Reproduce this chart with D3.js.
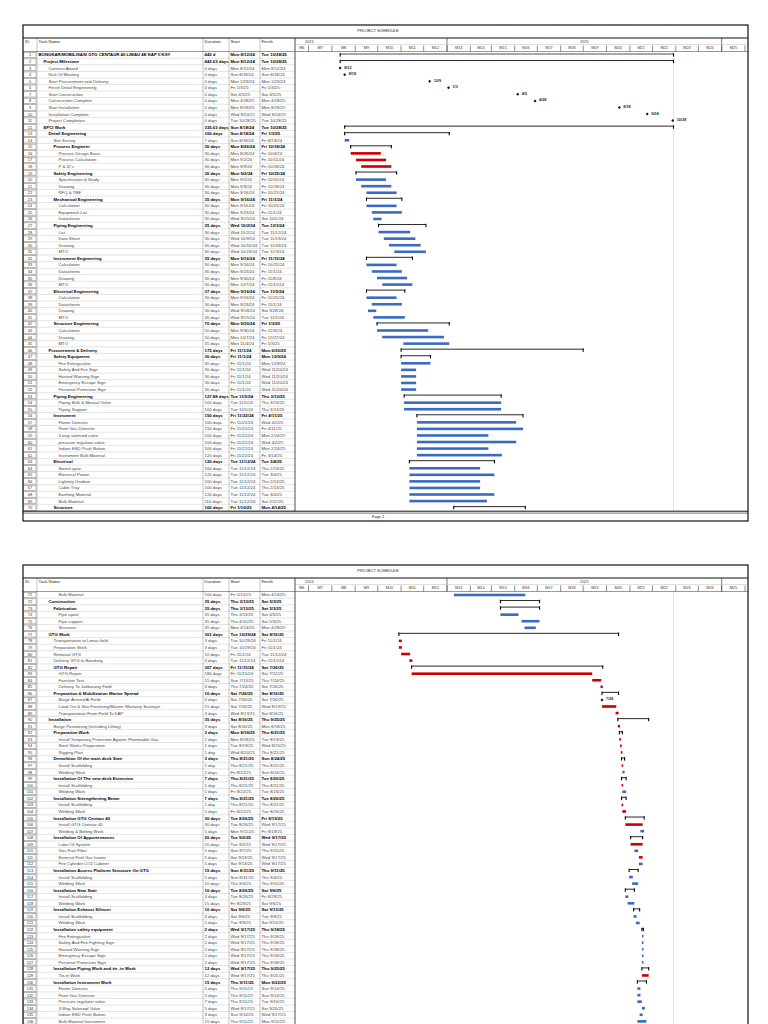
<!DOCTYPE html>
<html>
<head>
<meta charset="utf-8">
<script src="https://cdn.jsdelivr.net/npm/d3@7"></script>
<style>
  body { margin: 0; background: #fff; }
  svg { display: block; font-family: "Liberation Sans", Arial, sans-serif; }
</style>
</head>
<body>
<script>
// task table (rows 1..136)
const taskNames = [
  'BONGKAR/MOBILISASI GTG CENTAUR 40 LIMAU 4E KAP II KSY', 'Project Milestone', 'Contract Award', 'Kick Of Meeting',
  'Start Procurement and Delivery', 'Finish Detail Engineering', 'Start Construction', 'Construction Complete',
  'Start Installation', 'Installation Complete', 'Project Completion', 'EPCI Work', 'Detail Engineering', 'Site Survey',
  'Process Engineer', 'Process Design Basis', 'Process Calculation', "P & ID's", 'Safety Engineering',
  'Specification & Study', 'Drawing', 'RFQ & TBE', 'Mechanical Engineering', 'Calculation', 'Equipment List',
  'Datasheets', 'Piping Engineering', 'List', 'Data Sheet', 'Drawing', 'MTO', 'Instrument Engineering', 'Calculation',
  'Datasheets', 'Drawing', 'MTO', 'Electrical Engineering', 'Calculation', 'Datasheets', 'Drawing', 'MTO',
  'Structure Engineering', 'Calculation', 'Drawing', 'MTO', 'Procurement & Delivery', 'Safety Equipment',
  'Fire Extinguisher', 'Safety And Fire Sign', 'Hazard Warning Sign', 'Emergency Escape Sign', 'Personal Protection Sign',
  'Piping Engineering', 'Piping Bulk & Manual Valve', 'Piping Support', 'Instrument', 'Flame Detector',
  'Point Gas Detector', '3 way solenoid valve', 'pressure regulator valve', 'Indoor ESD Push Button',
  'Instrument Bulk Material', 'Electrical', 'Switch gear', 'Electrical Power', 'Lighting Outdoor', 'Cable Tray',
  'Earthing Material', 'Bulk Material', 'Structure',
  'Bulk Material', 'Construction', 'Fabrication', 'Pipe spool', 'Pipe support', 'Structure', 'GTG Work',
  'Transportation to Limau field', 'Preparation Work', 'Removal GTG', 'Delivery GTG to Bandung', 'GTG Repair',
  'GTG Repair', 'Function Test', 'Delivery To Jatibarang Field', 'Preparation & Mobilization Marine Spread',
  'Barge Arrived At Field', 'Load Out & Sea Fastening/Marine Warranty Surveyor', 'Transportation From Field To KAP',
  'Installation', 'Barge Positioning (including Lifting)', 'Preparation Work',
  'Install Temporary Protection Againts Flammable Gas', 'Steel Works Preparation', 'Rigging Plan',
  'Demolition Of the main deck Stair', 'Install Scaffolding', 'Welding Work', 'Installation Of The new deck Extension',
  'Install Scaffolding', 'Welding Work', 'Installation Strengthening Beam', 'Install Scaffolding', 'Welding Work',
  'Installation GTG Centaur 40', 'Install GTG Centaur 40', 'Welding & Bolting Work', 'Installation Of Appurtenances',
  'Lube Oil System', 'Gas Fuel Filter', 'External Fuel Gas heater', 'Fire Cylinder CO2 Cabinet',
  'Installation Access Platform Structure On GTG', 'Install Scaffolding', 'Welding Work', 'Installation New Stair',
  'Install Scaffolding', 'Welding Work', 'Installation  Exhaust Silincer', 'Install Scaffolding', 'Welding Work',
  'Installation safety equipment', 'Fire Extinguisher', 'Safety And Fire Fighting Sign', 'Hazard Warning Sign',
  'Emergency Escape Sign', 'Personal Protection Sign', 'Installation Piping Work and tie -in Work', 'Tie-in Work',
  'Installation Instrument Work', 'Flame Detector', 'Point Gas Detector', 'Pressure regulator valve',
  '3 Way Solenoid Valve', 'Indoor ESD Push Button', 'Bulk Material Instrument'
];

const durations = [
  '442 d', '442.63 days', '0 days', '0 days', '0 days', '0 days', '0 days', '0 days', '0 days', '0 days',
  '0 days', '335.63 days', '100 days', '7 days', '30 days', '30 days', '30 days', '30 days', '30 days', '30 days',
  '30 days', '30 days', '35 days', '30 days', '30 days', '30 days', '35 days', '30 days', '30 days', '30 days',
  '30 days', '35 days', '30 days', '30 days', '30 days', '30 days', '37 days', '30 days', '30 days', '30 days',
  '30 days', '70 days', '50 days', '50 days', '35 days', '175 days', '30 days', '30 days', '30 days', '30 days',
  '30 days', '30 days', '127.88 days', '100 days', '100 days', '150 days', '100 days', '150 days', '100 days', '100 days',
  '100 days', '120 days', '120 days', '100 days', '120 days', '100 days', '100 days', '120 days', '110 days', '100 days',
  '100 days', '35 days', '35 days', '35 days', '35 days', '35 days', '301 days', '3 days', '3 days', '10 days',
  '3 days', '307 days', '180 days', '15 days', '3 days', '10 days', '0 days', '15 days', '3 days', '35 days',
  '3 days', '3 days', '1 days', '1 days', '1 day', '3 days', '1 day', '2 days', '7 days', '1 day',
  '5 days', '7 days', '1 day', '5 days', '30 days', '30 days', '5 days', '20 days', '20 days', '5 days',
  '5 days', '5 days', '15 days', '5 days', '10 days', '10 days', '3 days', '15 days', '10 days', '3 days',
  '5 days', '2 days', '2 days', '2 days', '2 days', '2 days', '2 days', '12 days', '12 days', '15 days',
  '5 days', '5 days', '7 days', '5 days', '3 days', '15 days'
];

const starts = [
  'Mon 8/12/24', 'Mon 8/12/24', 'Mon 8/12/24', 'Sun 8/18/24', 'Mon 12/9/24', 'Fri 1/3/25', 'Sat 4/5/25', 'Mon 4/28/25',
  'Mon 8/18/25', 'Wed 9/24/25', 'Tue 10/28/25', 'Sun 8/18/24', 'Sun 8/18/24', 'Sun 8/18/24', 'Mon 8/26/24', 'Mon 8/26/24',
  'Mon 9/2/24', 'Mon 9/9/24', 'Mon 9/2/24', 'Mon 9/2/24', 'Mon 9/9/24', 'Mon 9/16/24', 'Mon 9/16/24', 'Mon 9/16/24',
  'Mon 9/23/24', 'Wed 9/25/24', 'Wed 10/2/24', 'Wed 10/2/24', 'Wed 10/9/24', 'Wed 10/16/24', 'Wed 10/23/24', 'Mon 9/16/24',
  'Mon 9/16/24', 'Mon 9/23/24', 'Mon 9/30/24', 'Mon 10/7/24', 'Mon 9/16/24', 'Mon 9/16/24', 'Mon 9/23/24', 'Wed 9/18/24',
  'Wed 9/25/24', 'Mon 9/30/24', 'Mon 9/30/24', 'Mon 10/7/24', 'Mon 11/4/24', 'Fri 11/1/24', 'Fri 11/1/24', 'Fri 11/1/24',
  'Fri 11/1/24', 'Fri 11/1/24', 'Fri 11/1/24', 'Fri 11/1/24', 'Tue 11/5/24', 'Tue 11/5/24', 'Tue 11/5/24', 'Fri 11/22/24',
  'Fri 11/22/24', 'Fri 11/22/24', 'Fri 11/22/24', 'Fri 11/22/24', 'Fri 11/22/24', 'Fri 11/22/24', 'Tue 11/12/24', 'Tue 11/12/24',
  'Tue 11/12/24', 'Tue 11/12/24', 'Tue 11/12/24', 'Tue 11/12/24', 'Tue 11/12/24', 'Fri 1/10/25',
  'Fri 1/10/25', 'Thu 3/13/25', 'Thu 3/13/25', 'Thu 3/13/25', 'Thu 4/10/25', 'Mon 4/14/25', 'Tue 10/29/24', 'Tue 10/29/24',
  'Tue 10/29/24', 'Fri 11/1/24', 'Tue 11/12/24', 'Fri 11/15/24', 'Fri 11/15/24', 'Sun 7/13/25', 'Thu 7/24/25', 'Sat 7/26/25',
  'Sat 7/26/25', 'Sat 7/26/25', 'Wed 8/13/25', 'Sat 8/16/25', 'Sat 8/16/25', 'Mon 8/18/25', 'Mon 8/18/25', 'Tue 8/19/25',
  'Wed 8/20/25', 'Thu 8/21/25', 'Thu 8/21/25', 'Fri 8/22/25', 'Thu 8/21/25', 'Thu 8/21/25', 'Fri 8/22/25', 'Thu 8/21/25',
  'Thu 8/21/25', 'Fri 8/22/25', 'Tue 8/26/25', 'Tue 8/26/25', 'Mon 9/15/25', 'Tue 9/2/25', 'Tue 9/2/25', 'Sun 9/7/25',
  'Sat 9/13/25', 'Sat 9/13/25', 'Sun 8/31/25', 'Sun 8/31/25', 'Thu 9/4/25', 'Tue 8/26/25', 'Tue 8/26/25', 'Fri 8/29/25',
  'Sat 9/6/25', 'Sat 9/6/25', 'Tue 9/9/25', 'Wed 9/17/25', 'Wed 9/17/25', 'Wed 9/17/25', 'Wed 9/17/25', 'Wed 9/17/25',
  'Wed 9/17/25', 'Wed 9/17/25', 'Wed 9/17/25', 'Thu 9/11/25', 'Thu 9/11/25', 'Thu 9/11/25', 'Thu 9/11/25', 'Wed 9/17/25',
  'Sun 9/14/25', 'Thu 9/11/25'
];

const finishes = [
  'Tue 10/28/25', 'Tue 10/28/25', 'Mon 8/12/24', 'Sun 8/18/24', 'Mon 12/9/24', 'Fri 1/3/25', 'Sat 4/5/25', 'Mon 4/28/25',
  'Mon 8/18/25', 'Wed 9/24/25', 'Tue 10/28/25', 'Tue 10/28/25', 'Fri 1/3/25', 'Fri 8/23/24', 'Fri 10/18/24', 'Fri 10/4/24',
  'Fri 10/11/24', 'Fri 10/18/24', 'Fri 10/25/24', 'Fri 10/11/24', 'Fri 10/18/24', 'Fri 10/25/24', 'Fri 11/1/24', 'Fri 10/25/24',
  'Fri 11/1/24', 'Sat 10/5/24', 'Tue 12/3/24', 'Tue 11/12/24', 'Tue 11/19/24', 'Tue 11/26/24', 'Tue 12/3/24', 'Fri 11/15/24',
  'Fri 10/25/24', 'Fri 11/1/24', 'Fri 11/8/24', 'Fri 11/15/24', 'Tue 11/5/24', 'Fri 10/25/24', 'Fri 11/1/24', 'Sat 9/28/24',
  'Tue 11/5/24', 'Fri 1/3/25', 'Fri 12/6/24', 'Fri 12/27/24', 'Fri 1/3/25', 'Mon 6/30/25', 'Mon 12/9/24', 'Mon 12/9/24',
  'Wed 11/20/24', 'Wed 11/20/24', 'Wed 11/20/24', 'Wed 11/20/24', 'Thu 3/13/25', 'Thu 3/13/25', 'Thu 3/13/25', 'Fri 4/11/25',
  'Wed 4/2/25', 'Fri 4/11/25', 'Mon 2/24/25', 'Wed 4/2/25', 'Mon 2/24/25', 'Fri 3/14/25', 'Tue 3/4/25', 'Thu 2/13/25',
  'Tue 3/4/25', 'Thu 2/13/25', 'Thu 2/13/25', 'Tue 3/4/25', 'Sat 2/22/25', 'Mon 4/14/25',
  'Mon 4/14/25', 'Sat 5/3/25', 'Sat 5/3/25', 'Sat 4/5/25', 'Sat 5/3/25', 'Mon 4/28/25', 'Sat 8/16/25', 'Fri 11/1/24',
  'Fri 11/1/24', 'Tue 11/12/24', 'Fri 11/15/24', 'Sat 7/26/25', 'Sat 7/12/25', 'Thu 7/24/25', 'Sat 7/26/25', 'Sat 8/16/25',
  'Sat 7/26/25', 'Wed 8/13/25', 'Sat 8/16/25', 'Thu 9/25/25', 'Mon 8/18/25', 'Thu 8/21/25', 'Tue 8/19/25', 'Wed 8/20/25',
  'Thu 8/21/25', 'Sun 8/24/25', 'Thu 8/21/25', 'Sun 8/24/25', 'Tue 8/26/25', 'Thu 8/21/25', 'Tue 8/26/25', 'Tue 8/26/25',
  'Thu 8/21/25', 'Tue 8/26/25', 'Fri 9/19/25', 'Wed 9/17/25', 'Fri 9/19/25', 'Wed 9/17/25', 'Wed 9/17/25', 'Thu 9/11/25',
  'Wed 9/17/25', 'Wed 9/17/25', 'Thu 9/11/25', 'Thu 9/4/25', 'Thu 9/11/25', 'Sat 9/6/25', 'Fri 8/29/25', 'Sat 9/6/25',
  'Sat 9/13/25', 'Tue 9/9/25', 'Sat 9/13/25', 'Thu 9/18/25', 'Thu 9/18/25', 'Thu 9/18/25', 'Thu 9/18/25', 'Thu 9/18/25',
  'Thu 9/18/25', 'Thu 9/25/25', 'Thu 9/25/25', 'Mon 9/22/25', 'Sun 9/14/25', 'Sun 9/14/25', 'Tue 9/16/25', 'Sat 9/20/25',
  'Wed 9/17/25', 'Mon 9/22/25'
];

// outline level of each task (indent in Task Name column)
const levels = [
  0, 1, 2, 2, 2, 2, 2, 2, 2, 2, 2, 1, 2, 3, 3, 4, 4, 4, 3, 4, 4, 4, 3, 4, 4, 4, 3, 4, 4, 4, 4, 3, 4, 4, 4, 4, 3, 4, 4, 4,
  4, 3, 4, 4, 4, 2, 3, 4, 4, 4, 4, 4, 3, 4, 4, 3, 4, 4, 4, 4, 4, 4, 3, 4, 4, 4, 4, 4, 4, 3,
  4, 2, 3, 4, 4, 4, 2, 3, 3, 3, 3, 3, 4, 4, 4, 3, 4, 4, 4, 2, 3, 3, 4, 4, 4, 3, 4, 4, 3, 4,
  4, 3, 4, 4, 3, 4, 4, 3, 4, 4, 4, 4, 3, 4, 4, 3, 4, 4, 3, 4, 4, 3, 4, 4, 4, 4, 4, 3, 4, 3,
  4, 4, 4, 4, 4, 4
];

// p = project summary, s = summary, m = milestone, t = task, c = critical task
const kinds = [
  'p', 's', 'm', 'm', 'm', 'm', 'm', 'm', 'm', 'm', 'm', 's', 's', 't', 's', 'c', 'c', 'c', 's', 't',
  't', 't', 's', 't', 't', 't', 's', 't', 't', 't', 't', 's', 't', 't', 't', 't', 's', 't', 't', 't',
  't', 's', 't', 't', 't', 's', 's', 't', 't', 't', 't', 't', 's', 't', 't', 's', 't', 't', 't', 't',
  't', 't', 's', 't', 't', 't', 't', 't', 't', 's',
  't', 's', 's', 't', 't', 't', 's', 'c', 'c', 'c', 'c', 's', 'c', 'c', 'c', 's', 'm', 'c', 'c', 's',
  'c', 's', 'c', 'c', 'c', 's', 'c', 't', 's', 'c', 't', 's', 'c', 'c', 's', 'c', 't', 's', 'c', 't',
  'c', 't', 's', 't', 't', 's', 't', 't', 's', 't', 't', 's', 't', 't', 't', 't', 't', 's', 'c', 's',
  't', 't', 't', 't', 't', 't'
];

const pageTitle = 'PROJECT SCHEDULE';
const columnHeads = ['ID', 'Task Name', 'Duration', 'Start', 'Finish'];
const yearLabels = [2024, 2025];
const projectFinish = 'Tue 10/28/25';

let parseDate = d3.timeParse('%m/%d/%y');
function toDate(s) { return parseDate(s.split(' ')[1]); }

let tasks = taskNames.map(function(name, i) {
  return {
    id: i + 1, name: name, dur: durations[i], start: starts[i], finish: finishes[i],
    level: levels[i], kind: kinds[i],
    s: toDate(starts[i]),
    f: kinds[i] === 'm' ? toDate(finishes[i]) : d3.timeDay.offset(toDate(finishes[i]), 1)
  };
});

let pages = [
  { top: 25, from: 1, to: 70, label: 'Page 1' },
  { top: 565, from: 71, to: 136, label: 'Page 2' }
];

let L = 23, R = 748, G = 295;          // frame left/right, gantt start
let colX = [23, 37, 203, 229, 260];    // table column edges
let rowH = 6.56, rowTop = 26.7, pageH = 496;
let fs = 4.3;
let blue = '#3a6bc0', red = '#cc0000';

let x = d3.scaleTime()
  .domain([new Date(2024, 5, 13), new Date(2026, 1, 5)])
  .range([G, R]);

let svg = d3.select('body').append('svg')
  .attr('width', 768)
  .attr('height', 1024);

svg.append('defs').append('clipPath').attr('id', 'gclip')
  .append('rect').attr('x', G).attr('y', 0).attr('width', R - G).attr('height', pageH);

pages.forEach(function(p) {
  let rows = tasks.filter(function(t) { return t.id >= p.from && t.id <= p.to; });
  let y = d3.scaleBand()
    .domain(rows.map(function(d) { return d.id; }))
    .range([rowTop, rowTop + rows.length * rowH]);
  let bottom = rowTop + rows.length * rowH;

  let g = svg.append('g').attr('transform', 'translate(0,' + p.top + ')');

  // title
  g.append('text')
    .attr('x', 378).attr('y', 6.5)
    .attr('text-anchor', 'middle')
    .attr('font-size', 4)
    .attr('fill', '#222')
    .text(pageTitle);

  // header: table column titles
  g.selectAll('.colhead').data(columnHeads).enter().append('text')
    .attr('class', 'colhead')
    .attr('x', function(d, i) { return colX[i] + (i === 0 ? 2 : 1.5); })
    .attr('y', 17.8)
    .attr('font-size', fs)
    .attr('fill', '#222')
    .text(function(d) { return d; });

  // header: timescale
  let gh = g.append('g').attr('clip-path', 'url(#gclip)');
  gh.selectAll('.yr').data(yearLabels).enter().append('text')
    .attr('x', function(d) { return (x(new Date(d, 0, 1)) + x(new Date(d + 1, 0, 1))) / 2; })
    .attr('y', 17.5)
    .attr('text-anchor', 'middle')
    .attr('font-size', 3.8)
    .attr('fill', '#333')
    .text(function(d) { return d; });

  let months = d3.timeMonth.range(new Date(2024, 5, 1), new Date(2026, 1, 1));
  gh.selectAll('.mo').data(months).enter().append('text')
    .attr('x', function(d) {
      let a = Math.max(G, x(d)), b = Math.min(R, x(d3.timeMonth.offset(d, 1)));
      return (a + b) / 2;
    })
    .attr('y', 24.2)
    .attr('text-anchor', 'middle')
    .attr('font-size', 3.8)
    .attr('fill', '#333')
    .text(function(d) { return 'M' + ((d.getFullYear() - 2024) * 12 + d.getMonth() + 1); });

  gh.selectAll('.msep').data(x.ticks(d3.timeMonth.every(1))).enter().append('line')
    .attr('x1', function(d) { return x(d); }).attr('x2', function(d) { return x(d); })
    .attr('y1', 20.5).attr('y2', 26.5)
    .attr('stroke', '#444').attr('stroke-width', 0.6);

  gh.selectAll('.ysep').data(x.ticks(d3.timeYear.every(1))).enter().append('line')
    .attr('x1', function(d) { return x(d); }).attr('x2', function(d) { return x(d); })
    .attr('y1', 13).attr('y2', 26.5)
    .attr('stroke', '#444').attr('stroke-width', 0.7);

  g.append('line').attr('x1', G).attr('x2', R).attr('y1', 19.6).attr('y2', 19.6)
    .attr('stroke', '#bbb').attr('stroke-width', 0.5);

  // table body
  let tr = g.selectAll('.row').data(rows).enter().append('g')
    .attr('class', 'row')
    .attr('transform', function(d) { return 'translate(0,' + y(d.id) + ')'; });

  tr.append('line')
    .attr('x1', L).attr('x2', G).attr('y1', rowH).attr('y2', rowH)
    .attr('stroke', '#c8c8c8').attr('stroke-width', 0.5);

  tr.append('rect')
    .attr('x', L + 0.8).attr('y', 0.6).attr('width', colX[1] - L - 1.8).attr('height', rowH - 1.2)
    .attr('fill', '#fff').attr('stroke', '#777').attr('stroke-width', 0.5);

  tr.append('text')
    .attr('x', (L + colX[1]) / 2).attr('y', rowH / 2 + 1.5)
    .attr('text-anchor', 'middle')
    .attr('font-size', fs - 0.3).attr('fill', '#333')
    .text(function(d) { return d.id; });

  let bold = function(d) { return d.kind === 's' || d.kind === 'p' ? 'bold' : 'normal'; };
  let ink = function(d) { return d.kind === 's' || d.kind === 'p' ? '#000' : '#444'; };

  tr.append('text')
    .attr('x', function(d) { return colX[1] + 1.5 + d.level * 5; })
    .attr('y', rowH / 2 + 1.5)
    .attr('font-size', fs).attr('font-weight', bold).attr('fill', ink)
    .text(function(d) { return d.name; });

  [['dur', 2], ['start', 3], ['finish', 4]].forEach(function(c) {
    tr.append('text')
      .attr('x', colX[c[1]] + 1.5)
      .attr('y', rowH / 2 + 1.5)
      .attr('font-size', fs).attr('font-weight', bold).attr('fill', ink)
      .text(function(d) { return d[c[0]]; });
  });

  // column separators
  g.selectAll('.csep').data(colX.slice(1).concat([G])).enter().append('line')
    .attr('x1', function(d) { return d; }).attr('x2', function(d) { return d; })
    .attr('y1', 13).attr('y2', bottom)
    .attr('stroke', function(d) { return d === G ? '#222' : '#888'; })
    .attr('stroke-width', function(d) { return d === G ? 0.8 : 0.5; });

  // project finish marker
  let pf = x(d3.timeDay.offset(toDate(projectFinish), 1));
  g.append('line')
    .attr('x1', pf).attr('x2', pf)
    .attr('y1', p.from === 1 ? y(2) : rowTop).attr('y2', bottom)
    .attr('stroke', '#cfcfcf').attr('stroke-width', 0.6);

  // gantt marks
  let gb = g.append('g');
  let cy = function(d) { return y(d.id) + rowH / 2; };

  let bars = rows.filter(function(d) { return d.kind === 't' || d.kind === 'c'; });
  gb.selectAll('.bar').data(bars).enter().append('rect')
    .attr('x', function(d) { return x(d.s); })
    .attr('y', function(d) { return cy(d) - 1.3; })
    .attr('width', function(d) { return Math.max(1.6, x(d.f) - x(d.s)); })
    .attr('height', 2.6)
    .attr('fill', function(d) { return d.kind === 'c' ? red : blue; });

  let sums = rows.filter(function(d) { return d.kind === 's' || d.kind === 'p'; });
  gb.selectAll('.sum').data(sums).enter().append('line')
    .attr('x1', function(d) { return x(d.s); })
    .attr('x2', function(d) { return x(d.f); })
    .attr('y1', function(d) { return cy(d) - 1; })
    .attr('y2', function(d) { return cy(d) - 1; })
    .attr('stroke', function(d) { return d.kind === 'p' ? '#8a8a8a' : '#111'; })
    .attr('stroke-width', function(d) { return d.kind === 'p' ? 1.3 : 0.9; });

  sums.forEach(function(d) {
    [x(d.s), x(d.f)].forEach(function(px) {
      gb.append('rect')
        .attr('x', px - 0.55).attr('y', cy(d) - 1.8)
        .attr('width', 1.1).attr('height', 3.4)
        .attr('fill', '#000');
    });
  });

  let miles = rows.filter(function(d) { return d.kind === 'm'; });
  gb.selectAll('.ms').data(miles).enter().append('path')
    .attr('d', d3.symbol().type(d3.symbolSquare).size(4.5))
    .attr('transform', function(d) { return 'translate(' + x(d.s) + ',' + cy(d) + ') rotate(45)'; })
    .attr('fill', '#111');

  gb.selectAll('.mlab').data(miles).enter().append('text')
    .attr('x', function(d) { return x(d.s) + 4; })
    .attr('y', function(d) { return cy(d) + 0.5; })
    .attr('font-size', 3.8).attr('font-weight', 'bold').attr('fill', '#222')
    .text(function(d) { return d3.timeFormat('%-m/%-d')(d.s); });

  // frame lines
  g.append('line').attr('x1', L).attr('x2', R).attr('y1', 13).attr('y2', 13)
    .attr('stroke', '#111').attr('stroke-width', 1.1);
  g.append('line').attr('x1', L).attr('x2', R).attr('y1', rowTop - 0.2).attr('y2', rowTop - 0.2)
    .attr('stroke', '#555').attr('stroke-width', 0.6);
  g.append('line').attr('x1', L).attr('x2', R).attr('y1', bottom + 0.3).attr('y2', bottom + 0.3)
    .attr('stroke', '#111').attr('stroke-width', 1);
  g.append('line').attr('x1', L).attr('x2', R).attr('y1', bottom + 2.2).attr('y2', bottom + 2.2)
    .attr('stroke', '#111').attr('stroke-width', 0.6);
  g.append('text')
    .attr('x', 378).attr('y', pageH - 3)
    .attr('text-anchor', 'middle')
    .attr('font-size', 4).attr('fill', '#222')
    .text(p.label);
  g.append('rect')
    .attr('x', L).attr('y', 0).attr('width', R - L).attr('height', pageH)
    .attr('fill', 'none').attr('stroke', '#111').attr('stroke-width', 1.2);
});
</script>
</body>
</html>
